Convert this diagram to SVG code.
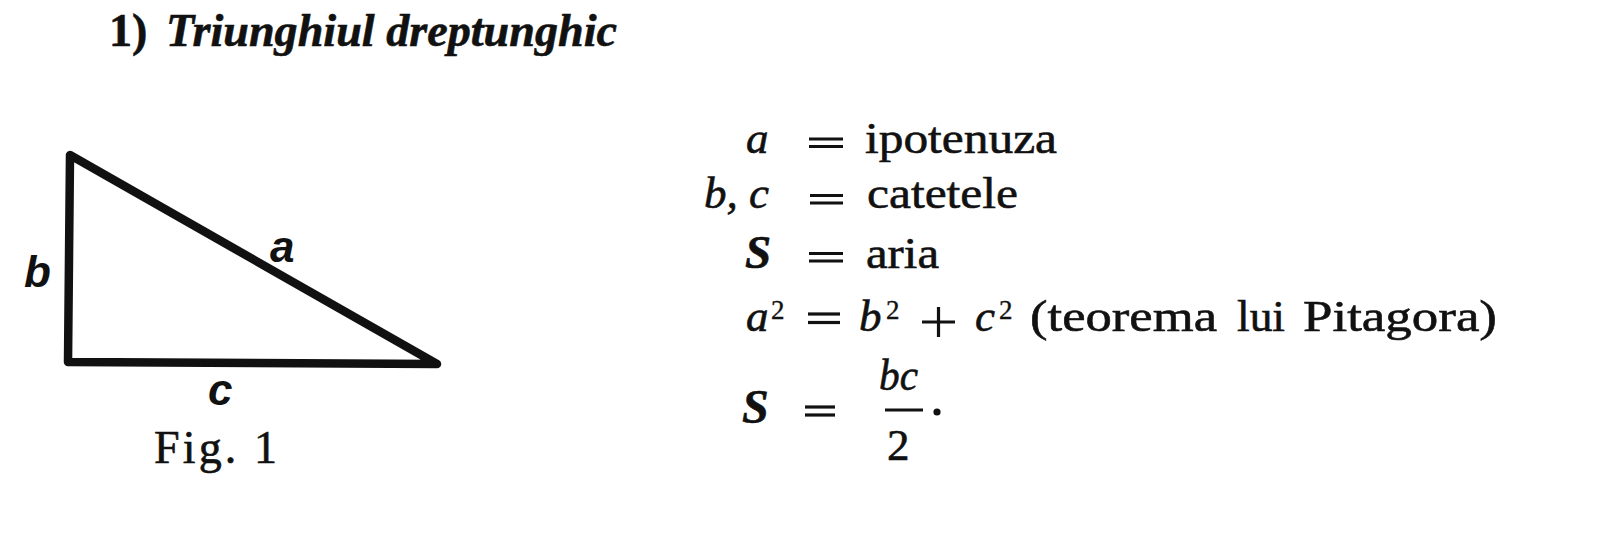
<svg xmlns="http://www.w3.org/2000/svg" width="1600" height="553" viewBox="0 0 1600 553">
<style>
.t{font-family:"Liberation Serif","DejaVu Serif",serif;fill:#111;stroke:#111;stroke-width:0.6}
.m{font-family:"Liberation Serif","DejaVu Serif",serif;font-style:italic;fill:#111;stroke:#111;stroke-width:0.6}
.lab{font-family:"Liberation Sans","DejaVu Sans",sans-serif;font-style:italic;font-weight:bold;fill:#111}
.sup{font-family:"Liberation Serif","DejaVu Serif",serif;fill:#111;stroke:#111;stroke-width:0.4;font-size:27px}
.eq{stroke:#111;stroke-width:3.2}
</style>
<rect width="1600" height="553" fill="#fff"/>
<g id="title">
<text class="t" x="109" y="46" font-size="46" font-weight="bold" stroke-width="0">1)</text>
<text class="t" x="166" y="46" font-size="46" font-weight="bold" font-style="italic" stroke-width="0" textLength="451" lengthAdjust="spacingAndGlyphs">Triunghiul dreptunghic</text>
</g>
<g id="triangle">
<path d="M70,155 L68,362 L437,364 Z" fill="none" stroke="#111" stroke-width="8.5" stroke-linejoin="round"/>
<text class="lab" x="24" y="287" font-size="44">b</text>
<text class="lab" x="270" y="262" font-size="44">a</text>
<text class="lab" x="208" y="405" font-size="44">c</text>
<text class="t" x="154" y="463" font-size="46" textLength="123" lengthAdjust="spacing">Fig. 1</text>
</g>
<g id="formulas">
<text class="m" x="746" y="153" font-size="45">a</text>
<line class="eq" x1="809" y1="139" x2="843" y2="139"/><line class="eq" x1="809" y1="146.5" x2="843" y2="146.5"/>
<text class="t" x="865" y="153" font-size="45" textLength="192" lengthAdjust="spacingAndGlyphs">ipotenuza</text>

<text class="m" x="704" y="208" font-size="45">b, c</text>
<line class="eq" x1="810" y1="195.5" x2="843" y2="195.5"/><line class="eq" x1="810" y1="203" x2="843" y2="203"/>
<text class="t" x="867" y="208" font-size="45" textLength="151" lengthAdjust="spacingAndGlyphs">catetele</text>

<text class="m" x="745" y="268" font-size="47" font-weight="bold" stroke-width="0">S</text>
<line class="eq" x1="809" y1="253.5" x2="843" y2="253.5"/><line class="eq" x1="809" y1="261" x2="843" y2="261"/>
<text class="t" x="866" y="268" font-size="45" textLength="73" lengthAdjust="spacingAndGlyphs">aria</text>

<text class="m" x="746" y="331" font-size="45">a</text>
<text class="sup" x="771" y="319">2</text>
<line class="eq" x1="808" y1="314" x2="840" y2="314"/><line class="eq" x1="808" y1="322.5" x2="840" y2="322.5"/>
<text class="m" x="859" y="331" font-size="45">b</text>
<text class="sup" x="886" y="319">2</text>
<line class="eq" x1="922" y1="322" x2="955" y2="322"/><line class="eq" x1="938.5" y1="307" x2="938.5" y2="337"/>
<text class="m" x="975" y="331" font-size="45">c</text>
<text class="sup" x="999" y="319">2</text>
<text class="t" x="1030" y="331" font-size="45" textLength="187" lengthAdjust="spacingAndGlyphs">(teorema</text>
<text class="t" x="1237" y="331" font-size="45" textLength="48" lengthAdjust="spacingAndGlyphs">lui</text>
<text class="t" x="1303" y="331" font-size="45" textLength="194" lengthAdjust="spacingAndGlyphs">Pitagora)</text>

<text class="m" x="742" y="423" font-size="48" font-weight="bold" stroke-width="0">S</text>
<line class="eq" x1="805" y1="407" x2="835" y2="407"/><line class="eq" x1="805" y1="415" x2="835" y2="415"/>
<text class="m" x="879" y="390" font-size="45" textLength="39" lengthAdjust="spacingAndGlyphs">bc</text>
<line x1="885" y1="410" x2="923" y2="410" stroke="#111" stroke-width="3"/>
<circle cx="937" cy="412" r="3.6" fill="#111"/>
<text class="t" x="887" y="460" font-size="45">2</text>
</g>
</svg>
